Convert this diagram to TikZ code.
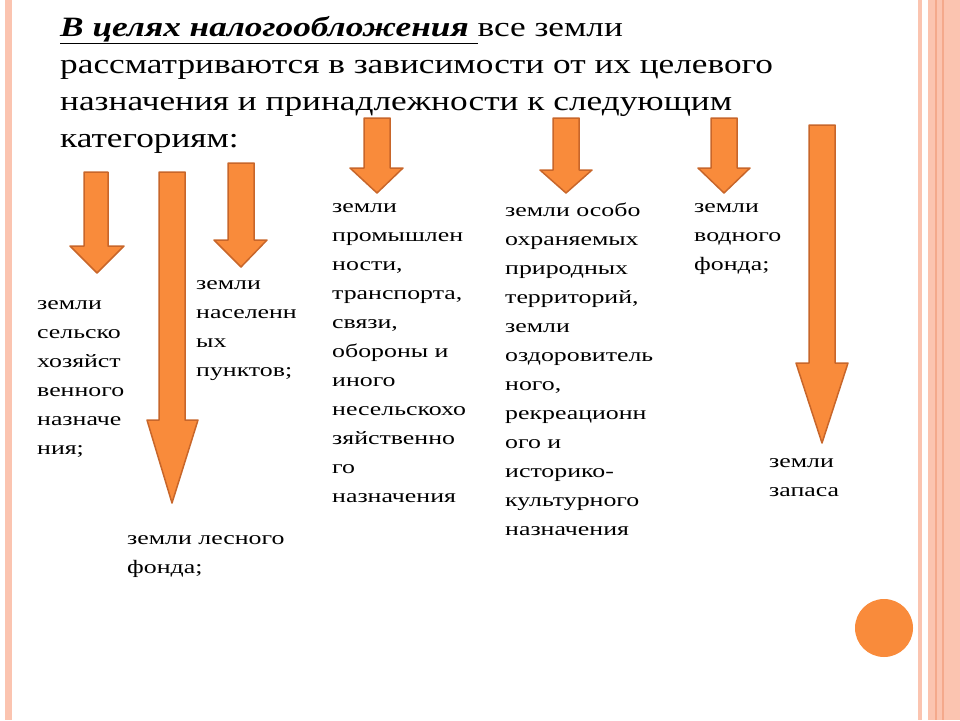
\documentclass[tikz,border=0pt]{standalone}
\usepackage{fontspec}
\setmainfont{Liberation Serif}
\newfontfamily\widetitle[FakeStretch=1.26]{Liberation Serif}
\newfontfamily\widelbl[FakeStretch=1.36]{Liberation Serif}
\definecolor{arr}{HTML}{F98B3B}
\definecolor{arrb}{HTML}{C8662A}
\definecolor{pk}{HTML}{FBC4B0}
\definecolor{pk2}{HTML}{F4A98C}
\begin{document}
\begin{tikzpicture}[x=1pt,y=-1pt,
  lbl/.style={anchor=north west,inner sep=0pt,align=left,font=\widelbl\fontsize{19}{29}\selectfont},
  arrow/.style={fill=arr,draw=arrb,line width=1.5pt,line join=round}]
\useasboundingbox (0,0) rectangle (960,720);
\fill[white] (0,0) rectangle (960,720);
% border stripes
\fill[pk] (5,0) rectangle (12,720);
\fill[pk] (918,0) rectangle (922,720);
\fill[pk] (928,0) rectangle (960,720);
\fill[pk2] (935,0) rectangle (937,720);
\fill[pk2] (942,0) rectangle (944,720);
% title
\node[anchor=north west,inner sep=0pt,align=left,font=\widetitle\fontsize{28}{37}\selectfont] (title) at (60,16)
 {\underline{\textbf{\textit{В целях налогообложения }}}все земли\\рассматриваются в зависимости от их целевого\\назначения и принадлежности к следующим\\категориям:};
% arrows
\newcommand{\darrow}[9]{\draw[arrow] (#1,#3) -- (#2,#3) -- (#2,#4) -- (#6,#4) -- (#7,#8) -- (#5,#4) -- (#1,#4) -- cycle;}
\darrow{84}{108}{172}{246}{70}{124}{97}{273}{}
\darrow{159}{185}{172}{420}{147}{198}{172}{503}{}
\darrow{228}{254}{163}{240}{214}{267}{241}{267}{}
\darrow{364}{390}{118}{168}{350}{403}{377}{193}{}
\darrow{553}{579}{118}{170}{540}{592}{566}{193}{}
\darrow{711}{737}{118}{168}{698}{750}{724}{193}{}
\darrow{809}{835}{125}{363}{796}{848}{822}{443}{}
% labels
\node[lbl] (a) at (37,300) {земли\\сельско\\хозяйст\\венного\\назначе\\ния;};
\node[lbl] (b) at (127,535) {земли лесного\\фонда;};
\node[lbl] (c) at (196,280) {земли\\населенн\\ых\\пунктов;};
\node[lbl] (d) at (332,203) {земли\\промышлен\\ности,\\транспорта,\\связи,\\обороны и\\иного\\несельскохо\\зяйственно\\го\\назначения};
\node[lbl] (e) at (505,203) {земли особо\\охраняемых\\природных\\территорий,\\земли\\оздоровитель\\ного,\\рекреационн\\ого и\\историко-\\культурного\\назначения};
\node[lbl] (f) at (694,203) {земли\\водного\\фонда;};
\node[lbl] (g) at (769,458) {земли\\запаса};
\fill[arr] (884,628) circle (29);
\end{tikzpicture}
\end{document}
